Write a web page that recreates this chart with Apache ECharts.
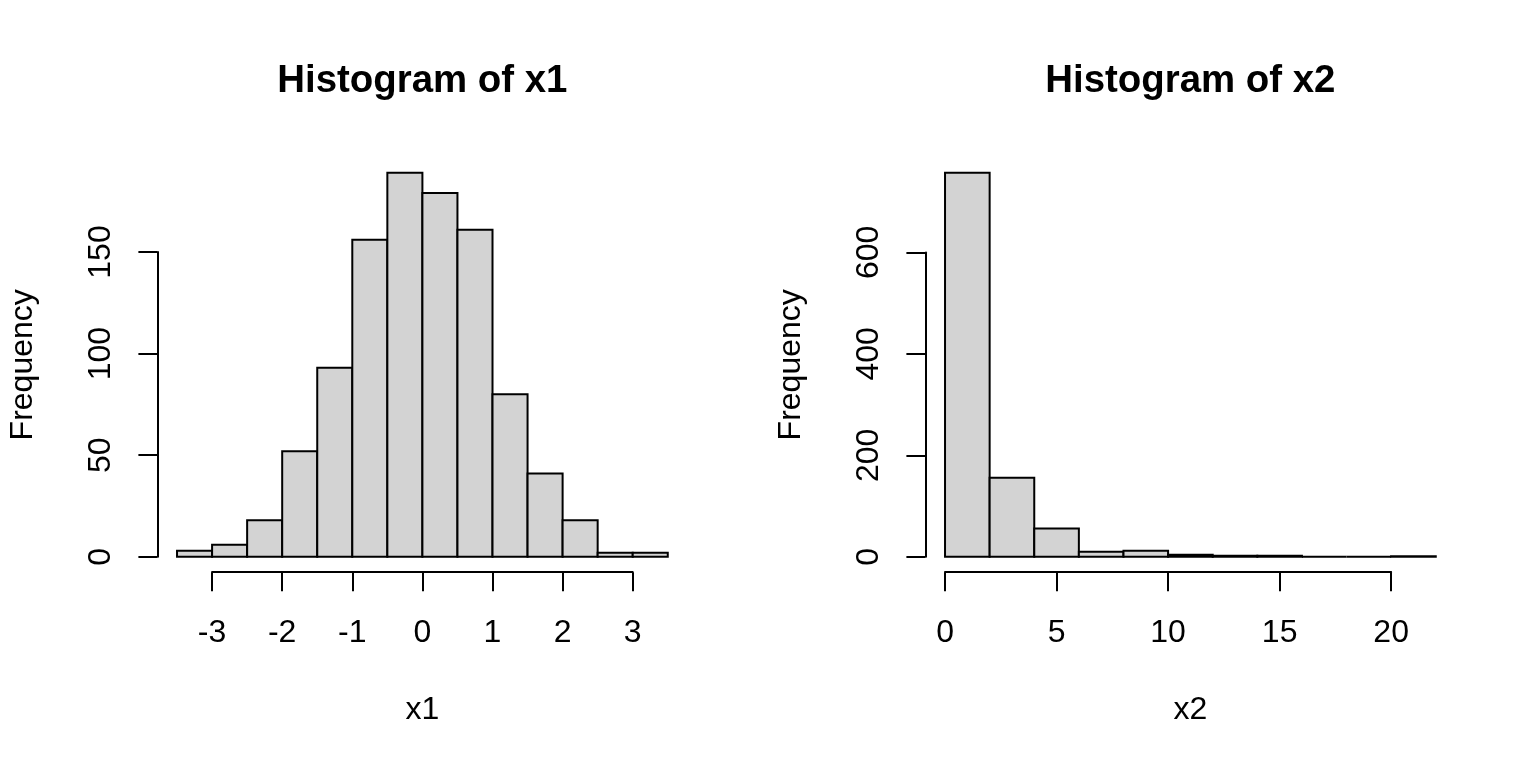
<!DOCTYPE html>
<html>
<head>
<meta charset="utf-8">
<script src="https://cdn.jsdelivr.net/npm/echarts@6/dist/echarts.min.js"></script>
<style>
html, body { margin: 0; padding: 0; background: #fff; }
#main { width: 1536px; height: 768px; }
</style>
</head>
<body>
<div id="main"></div>
<script>
// bin edges and counts
var x1Breaks = [-3.5, -3, -2.5, -2, -1.5, -1, -0.5, 0, 0.5, 1, 1.5, 2, 2.5, 3, 3.5];
var x1Counts = [3, 6, 18, 52, 93, 156, 189, 179, 161, 80, 41, 18, 2, 2];
var x2Breaks = [0, 2, 4, 6, 8, 10, 12, 14, 16, 18, 20, 22];
var x2Counts = [757, 156, 56, 10, 12, 4, 2, 2, 0, 0, 1];

// tick labels
var x1XTicks = [-3, -2, -1, 0, 1, 2, 3];
var x1YTicks = [0, 50, 100, 150];
var x2XTicks = [0, 5, 10, 15, 20];
var x2YTicks = [0, 200, 400, 600];

var titles = ['Histogram of x1', 'Histogram of x2'];
var xNames = ['x1', 'x2'];
var yName = 'Frequency';

var FONT = '"Liberation Sans", Arial, Helvetica, sans-serif';
// R-like panel margins (px)
var PANEL_W = 768, MAR_L = 157.4, MAR_R = 80.6, MAR_T = 157.4, MAR_B = 195.8, H = 768;

var option = {
    animation: false,
    backgroundColor: '#fff',
    textStyle: { fontFamily: FONT, color: '#000' },
    title: [],
    grid: [],
    xAxis: [],
    yAxis: [],
    series: []
};

function axisStyle() {
    return {
        axisLine: { show: true, lineStyle: { color: '#000', width: 2 } },
        axisTick: { show: true, length: 19, inside: false, lineStyle: { color: '#000', width: 2 } },
        splitLine: { show: false }
    };
}

function addPanel(i, breaks, counts, xTicks, yTicks) {
    var left = i * PANEL_W + MAR_L;
    var width = PANEL_W - MAR_L - MAR_R;
    var height = H - MAR_T - MAR_B;
    var xr = breaks[breaks.length - 1] - breaks[0];
    var xmin = breaks[0] - 0.04 * xr, xmax = breaks[breaks.length - 1] + 0.04 * xr;
    var cmax = Math.max.apply(null, counts);
    var ymin = -0.04 * cmax, ymax = 1.04 * cmax;
    var pxX = width / (xmax - xmin), pxY = height / (ymax - ymin);
    var base = option.grid.length;

    // plot region
    option.grid.push({ left: left, top: MAR_T, width: width, height: height, outerBoundsMode: 'none' });
    // x axis only (spans first..last tick)
    var xt0 = xTicks[0], xt1 = xTicks[xTicks.length - 1];
    option.grid.push({ left: left + (xt0 - xmin) * pxX, top: MAR_T, width: (xt1 - xt0) * pxX, height: height, outerBoundsMode: 'none' });
    // y axis only
    var yt0 = yTicks[0], yt1 = yTicks[yTicks.length - 1];
    option.grid.push({ left: left, top: MAR_T + (ymax - yt1) * pxY, width: width, height: (yt1 - yt0) * pxY, outerBoundsMode: 'none' });

    var hidden = { axisLine: { show: false }, axisTick: { show: false }, axisLabel: { show: false }, splitLine: { show: false } };

    option.xAxis.push(Object.assign({
        type: 'value', gridIndex: base, min: xmin, max: xmax,
        name: xNames[i], nameLocation: 'middle', nameGap: 122,
        nameTextStyle: { fontSize: 32, fontFamily: FONT, color: '#000' }
    }, hidden));
    option.yAxis.push(Object.assign({
        type: 'value', gridIndex: base, min: ymin, max: ymax,
        name: yName, nameLocation: 'middle', nameGap: 118, nameRotate: 90,
        nameTextStyle: { fontSize: 32, fontFamily: FONT, color: '#000' }
    }, hidden));

    option.xAxis.push(Object.assign({
        type: 'value', gridIndex: base + 1, position: 'bottom',
        min: xt0, max: xt1, interval: xTicks[1] - xTicks[0],
        axisLabel: { show: true, margin: 45, fontSize: 32, fontFamily: FONT, color: '#000', showMinLabel: true, showMaxLabel: true, hideOverlap: false }
    }, axisStyle()));
    option.yAxis.push(Object.assign({ type: 'value', gridIndex: base + 1, min: 0, max: 1 }, hidden));

    option.xAxis.push(Object.assign({ type: 'value', gridIndex: base + 2, min: 0, max: 1 }, hidden));
    option.yAxis.push(Object.assign({
        type: 'value', gridIndex: base + 2, position: 'left',
        min: yt0, max: yt1, interval: yTicks[1] - yTicks[0],
        axisLabel: { show: true, rotate: 90, margin: 40, fontSize: 32, fontFamily: FONT, color: '#000', showMinLabel: true, showMaxLabel: true, hideOverlap: false }
    }, axisStyle()));

    var data = counts.map(function (c, k) { return [breaks[k], breaks[k + 1], c]; });
    option.series.push({
        type: 'custom',
        xAxisIndex: base, yAxisIndex: base,
        encode: { x: [0, 1], y: 2 },
        clip: false,
        data: data,
        renderItem: function (params, api) {
            var p0 = api.coord([api.value(0), api.value(2)]);
            var p1 = api.coord([api.value(1), 0]);
            return {
                type: 'rect',
                shape: { x: p0[0], y: p0[1], width: p1[0] - p0[0], height: p1[1] - p0[1] },
                style: { fill: '#d3d3d3', stroke: '#000', lineWidth: 2 }
            };
        }
    });

    option.title.push({
        text: titles[i],
        left: left + width / 2, top: 62, textAlign: 'center', padding: 0,
        textStyle: { fontSize: 38.4, fontWeight: 'bold', fontFamily: FONT, color: '#000' }
    });
}

addPanel(0, x1Breaks, x1Counts, x1XTicks, x1YTicks);
addPanel(1, x2Breaks, x2Counts, x2XTicks, x2YTicks);

var myChart = echarts.init(document.getElementById('main'), null, { renderer: 'canvas' });
myChart.setOption(option, true);
</script>
</body>
</html>
